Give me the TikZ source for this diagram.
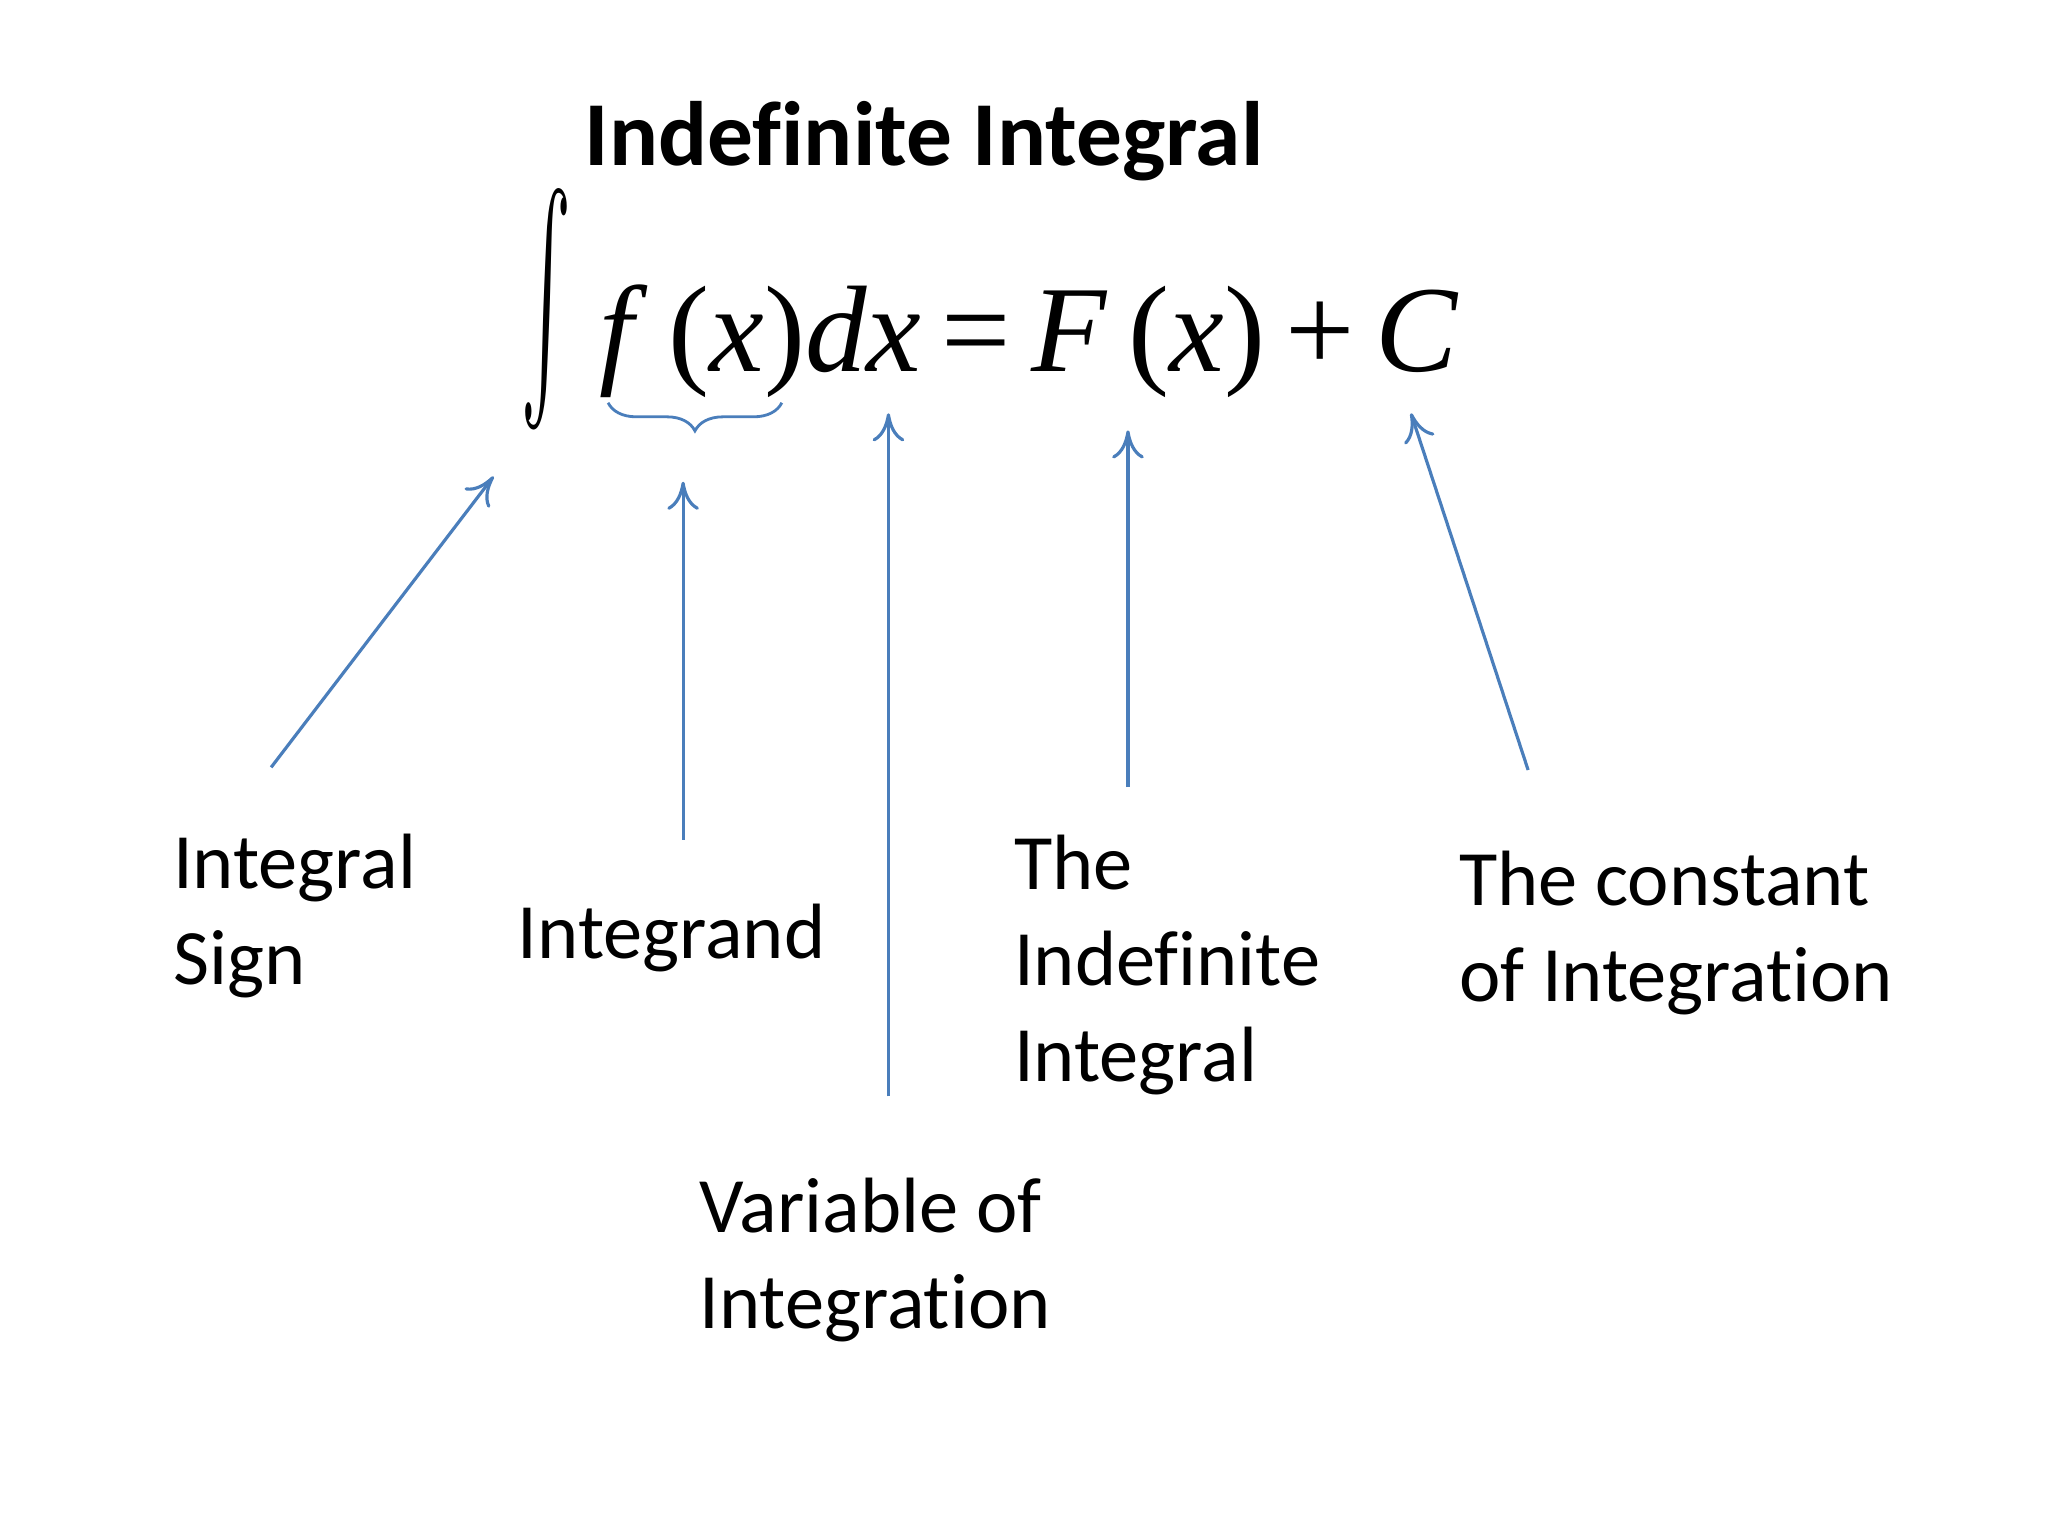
\documentclass[tikz,border=0pt]{standalone}
\usepackage{fontspec}
\setmainfont[Ligatures=NoCommon]{Carlito}
\newfontfamily\tms{Liberation Serif}
\usetikzlibrary{decorations.pathreplacing,arrows.meta}
\definecolor{ablue}{HTML}{4A7EBB}
\begin{document}
\begin{tikzpicture}[x=0.01316cm,y=-0.01316cm,
  lbl/.style={anchor=base west,align=left,inner sep=0pt,font=\fontsize{22.3}{27.3}\selectfont},
  arr/.style={ablue,line width=0.9pt,-{To[length=8pt,width=9pt]}}]
\useasboundingbox[fill=white] (0,0) rectangle (1556,1167);
\node[anchor=base,inner sep=0pt,font=\fontsize{26}{30}\selectfont\bfseries] (title) at (702,126) {Indefinite Integral};
\node[anchor=south west,inner sep=0pt] (int) at (396,327) {\resizebox{0.5cm}{1.75cm}{$\int$}};
\node[anchor=base west,inner sep=0pt,font=\tms\fontsize{35}{40}\selectfont] (eq) at (455,282)
  {\textit{f}\,(\textit{x})\textit{dx}\,=\,\textit{F}\,(\textit{x})\,+\,\textit{C}};
\draw[ablue,line width=0.8pt,decorate,decoration={brace,mirror,amplitude=8pt,aspect=0.5}] (462,306) -- (594,306);
\coordinate (s1) at (206,583); \coordinate (e1) at (375,362);
\coordinate (s2) at (519,638); \coordinate (e2) at (519,366);
\coordinate (s3) at (675,833); \coordinate (e3) at (675,314);
\coordinate (s4) at (857,598); \coordinate (e4) at (857,327);
\coordinate (s5) at (1161,585); \coordinate (e5) at (1072,314);
\foreach \i in {1,...,5} \draw[arr] (s\i) -- (e\i);
\node[lbl] (l1) at (131,748) {Integral\\Sign};
\node[lbl] (l2) at (393,728) {Integrand};
\node[lbl] (l3) at (770,822) {The\\Indefinite\\Integral};
\node[lbl] (l4) at (1108,761) {The constant\\of Integration};
\node[lbl] (l5) at (531,1009) {Variable of\\Integration};
\end{tikzpicture}
\end{document}
